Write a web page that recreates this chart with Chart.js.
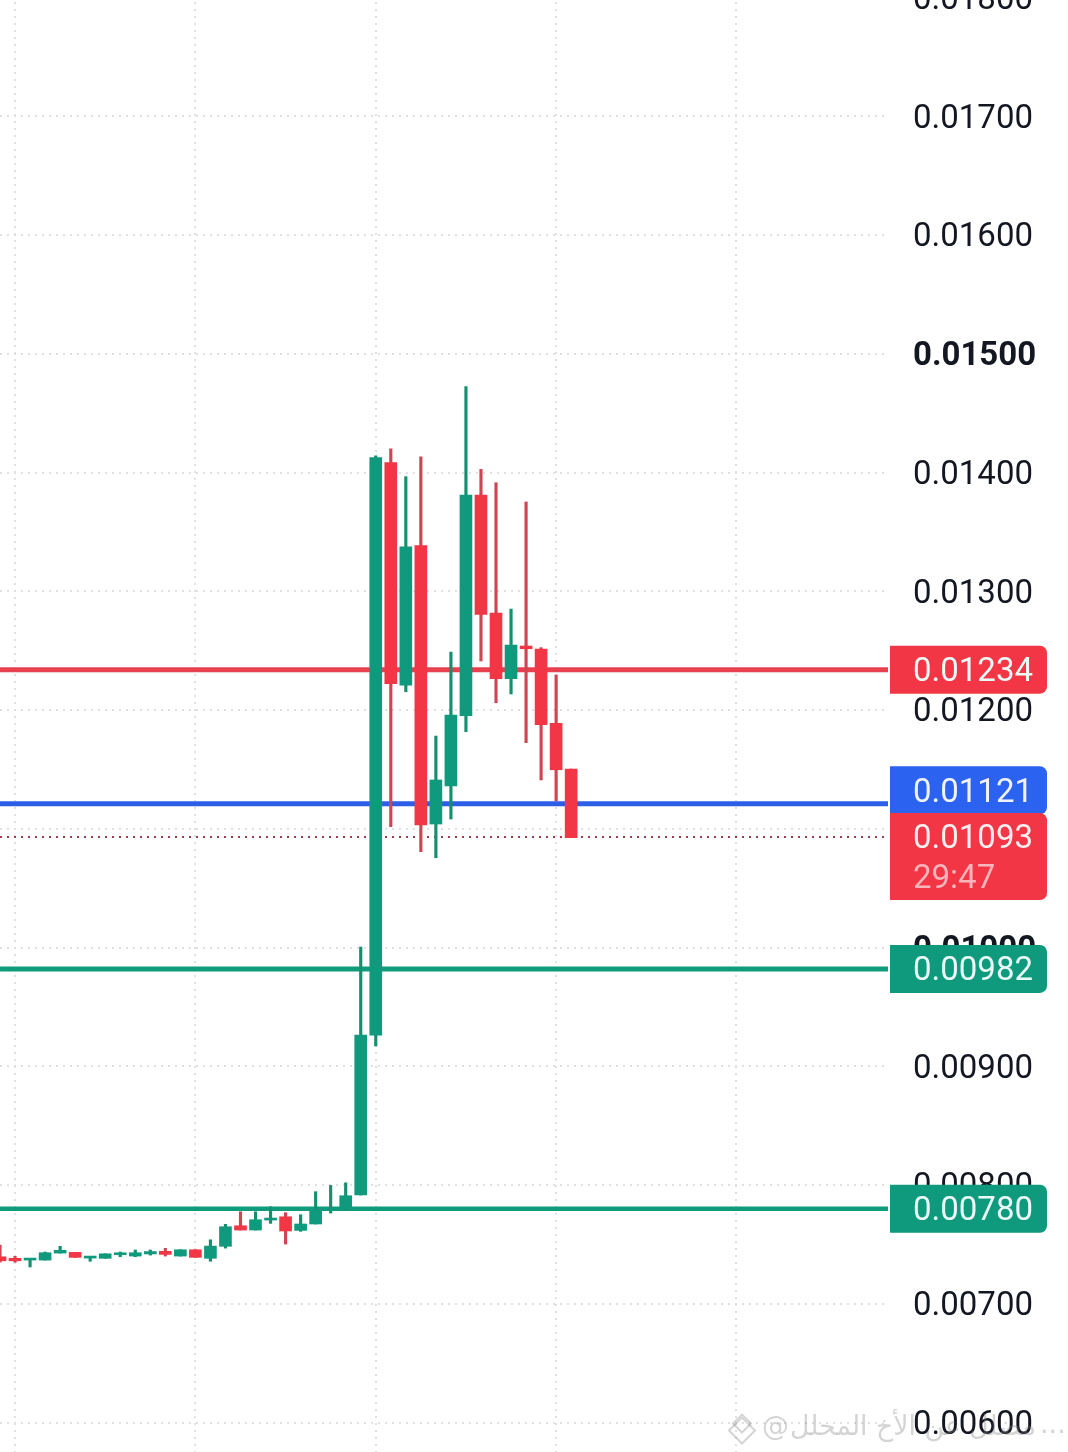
<!DOCTYPE html>
<html>
<head>
<meta charset="utf-8">
<title>Chart</title>
<script src="https://cdn.jsdelivr.net/npm/chart.js@4/dist/chart.umd.min.js"></script>
<style>
  html, body { margin: 0; padding: 0; background: #fff; overflow: hidden; }
  /* canvas starts 12px above the window so the 0.01800 label gets cut off at the top */
  #chart { display: block; margin-top: -12px; }
</style>
</head>
<body>
<canvas id="chart" width="1068" height="1464"></canvas>
<script>
// candle numbers, left to right
const candles = [0,1,2,3,4,5,6,7,8,9,10,11,12,13,14,15,16,17,18,19,20,21,22,23,24,25,26,27,28,29,30,31,32,33,34,35,36,37,38];

const opens = [0.007396,0.007383,0.007368,0.007368,0.007427,0.007433,0.007385,0.007383,0.007413,0.007402,0.007420,0.007442,0.007402,0.007455,0.007383,0.007484,0.007657,0.007621,0.007705,0.007733,0.007618,0.007672,0.007786,0.007798,0.007916,0.009263,0.014083,0.012210,0.013384,0.011040,0.011360,0.011952,0.013810,0.012817,0.012264,0.012539,0.012514,0.011888,0.011503];
const highs = [0.007495,0.007400,0.007379,0.007436,0.007484,0.007433,0.007400,0.007421,0.007436,0.007453,0.007453,0.007467,0.007455,0.007455,0.007539,0.007669,0.007775,0.007775,0.007817,0.007767,0.007750,0.007944,0.007997,0.008019,0.010004,0.014140,0.014200,0.013965,0.014133,0.011781,0.012488,0.014723,0.014027,0.013914,0.012850,0.013752,0.012525,0.012295,0.011503];
const lows = [0.007350,0.007350,0.007310,0.007368,0.007427,0.007391,0.007358,0.007383,0.007396,0.007396,0.007410,0.007402,0.007402,0.007391,0.007358,0.007469,0.007621,0.007621,0.007677,0.007503,0.007610,0.007672,0.007764,0.007790,0.007916,0.009171,0.011017,0.012154,0.010807,0.010756,0.011082,0.011817,0.012413,0.012061,0.012135,0.011725,0.011411,0.011236,0.010925];
const closes = [0.007362,0.007362,0.007379,0.007430,0.007450,0.007391,0.007400,0.007421,0.007430,0.007430,0.007440,0.007416,0.007455,0.007391,0.007486,0.007649,0.007621,0.007708,0.007722,0.007613,0.007672,0.007795,0.007802,0.007910,0.009263,0.014126,0.012221,0.013375,0.011032,0.011411,0.011958,0.013810,0.012806,0.012264,0.012547,0.012516,0.011876,0.011497,0.010925];

const yTicks = [0.006,0.007,0.008,0.009,0.01,0.011,0.012,0.013,0.014,0.015,0.016,0.017,0.018];
const boldTicks = [0.01,0.015];
const xGridCandles = [1,13,25,37,49];

// price lines and the tags on the right
const priceValues = [0.01234,0.01121,0.00982,0.0078];
const priceColors = ['#e8404f','#2c5ee8','#109b7d','#109b7d'];
const lastPrice = 0.01093;
const countdown = '29:47';

const green = '#0f9a7d';
const red = '#f23645';
const xMin = 0;
const xMax = 59.08;

const wickColors = candles.map(i => closes[i] >= opens[i] ? '#14906f' : '#cf4552');
const bodyColors = candles.map(i => closes[i] >= opens[i] ? green : red);

function lineDataset(value, color, width, dash) {
    return {
        type: 'line',
        data: [{ x: xMin, y: value }, { x: xMax, y: value }],
        borderColor: color,
        borderWidth: width,
        borderDash: dash,
        pointRadius: 0,
        order: 3
    };
}

function drawTag(ctx, y, height, color) {
    ctx.fillStyle = color;
    ctx.beginPath();
    ctx.roundRect(890, y, 157, height, [0, 7, 7, 0]);
    ctx.fill();
}

// tags over the axis labels + faint watermark
const tagsPlugin = {
    id: 'priceTags',
    afterDraw(chart) {
        const ctx = chart.ctx;
        const yScale = chart.scales.y;
        ctx.save();
        ctx.font = '33px Roboto';
        ctx.textBaseline = 'middle';
        ctx.textAlign = 'left';

        priceValues.forEach((value, i) => {
            if (i === 1) return;
            const y = yScale.getPixelForValue(value);
            drawTag(ctx, y - 24, 48, priceColors[i] === priceColors[0] ? red : green);
            ctx.fillStyle = '#eafaf6';
            ctx.fillText(value.toFixed(5), 913, y + 3);
        });

        // blue tag gets pushed up by the last price tag
        const blueY = yScale.getPixelForValue(priceValues[1]) - 13.5;
        drawTag(ctx, blueY - 24, 48, '#2c62f0');
        ctx.fillStyle = '#eef3ff';
        ctx.fillText(priceValues[1].toFixed(5), 913, blueY + 3);

        const lastY = yScale.getPixelForValue(lastPrice);
        drawTag(ctx, lastY - 24, 87, red);
        ctx.fillStyle = '#fdeef0';
        ctx.fillText(lastPrice.toFixed(5), 913, lastY + 3);
        ctx.fillStyle = '#fbb4bb';
        ctx.fillText(countdown, 913, lastY + 43);

        // watermark
        const wmY = yScale.getPixelForValue(0.006) + 5;
        ctx.fillStyle = 'rgba(130,130,130,0.34)';
        ctx.strokeStyle = 'rgba(130,130,130,0.34)';
        ctx.lineWidth = 2;
        ctx.font = '27px "DejaVu Sans"';
        ctx.direction = 'rtl';
        ctx.textAlign = 'right';
        ctx.fillText('مضلل عن الأخ المحلل', 1036, wmY, 246);
        ctx.direction = 'ltr';
        ctx.textAlign = 'left';
        ctx.fillText('@', 762, wmY);
        ctx.fillText('...', 1040, wmY - 2);
        [[742, wmY - 4, 9], [742, wmY + 3, 13]].forEach(([cx, cy, r]) => {
            ctx.beginPath();
            ctx.moveTo(cx - r, cy);
            ctx.lineTo(cx, cy - r);
            ctx.lineTo(cx + r, cy);
            ctx.lineTo(cx, cy + r);
            ctx.closePath();
            ctx.stroke();
        });
        ctx.restore();
    }
};

new Chart(document.getElementById('chart').getContext('2d'), {
    type: 'bar',
    plugins: [tagsPlugin],
    data: {
        datasets: [
            lineDataset(priceValues[0], priceColors[0], 5, []),
            lineDataset(priceValues[1], priceColors[1], 5, []),
            lineDataset(priceValues[2], priceColors[2], 5, []),
            lineDataset(priceValues[3], priceColors[3], 4.5, []),
            lineDataset(lastPrice, '#9c3f48', 2, [2, 5]),
            {
                // wicks
                data: candles.map(i => ({ x: i, y: [lows[i], highs[i]] })),
                backgroundColor: wickColors,
                barThickness: 2.5,
                grouped: false,
                order: 2
            },
            {
                // bodies
                data: candles.map(i => ({ x: i, y: [opens[i], closes[i]] })),
                backgroundColor: bodyColors,
                barThickness: 12,
                minBarLength: 2,
                grouped: false,
                order: 1
            }
        ]
    },
    options: {
        responsive: false,
        animation: false,
        layout: { padding: 0 },
        plugins: { legend: { display: false }, tooltip: { enabled: false } },
        scales: {
            x: {
                type: 'linear',
                min: xMin,
                max: xMax,
                offset: false,
                afterBuildTicks: scale => { scale.ticks = xGridCandles.map(v => ({ value: v })); },
                ticks: { display: false },
                grid: { color: '#dde1e6', lineWidth: 2, drawTicks: false, offset: false },
                border: { display: false, dash: [2, 5] }
            },
            y: {
                position: 'right',
                min: 0.005752,
                max: 0.01808,
                afterBuildTicks: scale => { scale.ticks = yTicks.map(v => ({ value: v })); },
                afterFit: scale => {
                    // plot fills the whole height, labels may run off the edge
                    scale.width = 180;
                    scale.paddingTop = 0;
                    scale.paddingBottom = 0;
                },
                ticks: {
                    autoSkip: false,
                    padding: 25,
                    labelOffset: 3,
                    color: '#131722',
                    font: c => ({
                        family: 'Roboto',
                        size: 33,
                        weight: c.tick && boldTicks.includes(c.tick.value) ? 'bold' : 'normal'
                    }),
                    callback: v => v.toFixed(5)
                },
                grid: { color: '#dde1e6', lineWidth: 2, drawTicks: false },
                border: { display: false, dash: [2, 5] }
            }
        }
    }
});
</script>
</body>
</html>
